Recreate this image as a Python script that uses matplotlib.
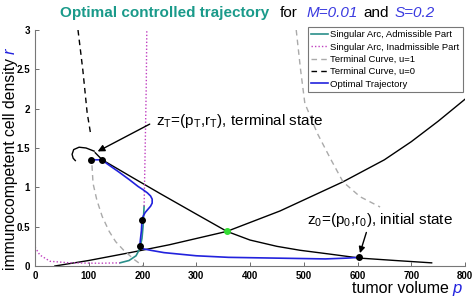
import matplotlib
matplotlib.use("Agg")
import matplotlib.pyplot as plt
import numpy as np

plt.rcParams['font.family'] = ['Liberation Sans', 'DejaVu Sans']

# ---- data ----
rise_p = [37, 100, 177, 250, 357, 456, 573, 650, 700, 750, 800]
rise_r = [0.0, 0.07, 0.17, 0.27, 0.44, 0.70, 1.07, 1.35, 1.58, 1.84, 2.12]

fall_p = [112, 125, 180, 233, 300, 357, 400, 450, 493, 550, 605, 670, 738]
fall_r = [1.44, 1.35, 1.13, 0.92, 0.66, 0.44, 0.33, 0.25, 0.20, 0.15, 0.10, 0.07, 0.04]

opt_p = [603, 580, 540, 450, 360, 300, 240, 215, 200, 195, 196, 198, 199, 201, 205, 210, 215, 218, 218, 215, 209, 201, 192, 175, 155, 134, 125, 104]
opt_r = [0.11, 0.10, 0.09, 0.10, 0.11, 0.13, 0.17, 0.20, 0.22, 0.25, 0.33, 0.45, 0.58, 0.63, 0.68, 0.72, 0.76, 0.80, 0.85, 0.89, 0.93, 0.97, 1.01, 1.10, 1.20, 1.30, 1.35, 1.35]

adm_p = [158, 175, 188, 195, 199, 201, 203]
adm_r = [0.04, 0.07, 0.13, 0.22, 0.35, 0.50, 0.76]

inadm_lo_p = [0, 9, 28, 65, 120, 158]
inadm_lo_r = [0.24, 0.14, 0.06, 0.04, 0.035, 0.04]
inadm_hi_p = [203, 205, 207, 208]
inadm_hi_r = [0.76, 1.5, 2.3, 3.0]

u1_a_p = [486, 494, 502, 525, 550, 573, 605, 642]
u1_a_r = [3.0, 2.5, 2.07, 1.69, 1.36, 1.07, 0.88, 0.75]
u1_b_p = [106, 108, 115, 125, 138, 150, 165, 185, 201]
u1_b_r = [1.28, 1.05, 0.84, 0.63, 0.44, 0.31, 0.20, 0.08, 0.0]

u0_p = [80, 89, 97, 103]
u0_r = [3.0, 2.49, 1.95, 1.70]

hook_p = [110, 95, 82, 72, 69, 71, 75]
hook_r = [1.46, 1.50, 1.51, 1.48, 1.42, 1.37, 1.34]

dots_p = [603, 195, 199, 125, 104]
dots_r = [0.11, 0.25, 0.58, 1.35, 1.35]
eq_p, eq_r = 357, 0.44
term_p, term_r = 112, 1.44
init_p, init_r = 603, 0.13

xticks = [0, 100, 200, 300, 400, 500, 600, 700, 800]
yticks = [0, 0.5, 1, 1.5, 2, 2.5, 3]
ytick_labels = ['0', '0.5', '1', '1.5', '2', '2.5', '3']

TEAL = '#2a8f8a'
MAG = '#c040c0'
GRAY = '#aaaaaa'
BLUE = '#2222dd'
TBLUE = '#3a3ae0'

W, H = 474, 297
fig = plt.figure(figsize=(W / 100, H / 100), dpi=100)
ax = fig.add_axes([35 / W, 31 / H, 430 / W, 236 / H])

ax.plot(rise_p, rise_r, color='black', lw=1.0)
ax.plot(fall_p, fall_r, color='black', lw=1.0)
ax.plot(hook_p, hook_r, color='black', lw=1.0)

ax.plot(adm_p, adm_r, color=TEAL, lw=1.2, label='Singular Arc, Admissible Part')
ax.plot(inadm_lo_p + [np.nan] + inadm_hi_p, inadm_lo_r + [np.nan] + inadm_hi_r,
        color=MAG, lw=1.0, ls=(0, (1, 1.5)), label='Singular Arc, Inadmissible Part')
ax.plot(u1_a_p + [np.nan] + u1_b_p, u1_a_r + [np.nan] + u1_b_r,
        color=GRAY, lw=1.0, ls=(0, (4, 3)), label='Terminal Curve, u=1')
ax.plot(u0_p, u0_r, color='black', lw=1.0, ls=(0, (4, 3)), label='Terminal Curve, u=0')
ax.plot(opt_p, opt_r, color=BLUE, lw=1.2, label='Optimal Trajectory')

ax.plot(dots_p, dots_r, 'o', color='black', ms=4, zorder=5)
ax.plot([eq_p], [eq_r], 'o', color='#33dd33', ms=4, zorder=5)

# annotations
ax.annotate('', xy=(term_p, term_r), xytext=(218, 1.82),
            arrowprops=dict(arrowstyle='-|>', color='black', lw=1.0, mutation_scale=10))
ax.text(226, 1.84, r'z$_\mathregular{T}$=(p$_\mathregular{T}$,r$_\mathregular{T}$), terminal state',
        fontsize=11, va='center', ha='left')
ax.annotate('', xy=(init_p, init_r), xytext=(618, 0.46),
            arrowprops=dict(arrowstyle='-|>', color='black', lw=1.0, mutation_scale=9))
ax.text(506, 0.58, r'z$_\mathregular{0}$=(p$_\mathregular{0}$,r$_\mathregular{0}$), initial state',
        fontsize=11, va='center', ha='left')

ax.set_xlim(0, 800)
ax.set_ylim(0, 3)
ax.set_xticks(xticks)
ax.set_xticklabels([str(t) for t in xticks])
ax.set_yticks(yticks)
ax.set_yticklabels(ytick_labels)
ax.tick_params(direction='in', length=3, labelsize=7, width=0.6, color='#555555')
for lab in ax.get_xticklabels() + ax.get_yticklabels():
    lab.set_fontweight('bold')
ax.spines['top'].set_visible(False)
ax.spines['right'].set_visible(False)
for s in ['left', 'bottom']:
    ax.spines[s].set_color('#777777')
    ax.spines[s].set_linewidth(0.8)

leg = ax.legend(loc='upper right', bbox_to_anchor=(463 / W, 1 - 27 / H),
                bbox_transform=fig.transFigure, fontsize=6.8, frameon=True,
                fancybox=False, edgecolor='#555555', handlelength=1.8,
                handletextpad=0.25, borderpad=0.35, labelspacing=0.35, borderaxespad=0)
leg.get_frame().set_linewidth(0.8)

renderer = fig.canvas.get_renderer()


def seq_h(pieces, x, y_base):
    """Place text pieces left to right; x, y_base in pixels from top-left."""
    for s, kw, gap in pieces:
        t = fig.text(x / W, 1 - y_base / H, s, ha='left', va='baseline', **kw)
        bb = t.get_window_extent(renderer)
        x += bb.width + gap


def seq_v(pieces, x_base, y):
    """Place rotated text pieces bottom to top."""
    for s, kw, gap in pieces:
        t = fig.text(x_base / W, 1 - y / H, s, ha='left', va='baseline',
                     rotation=90, rotation_mode='anchor', **kw)
        bb = t.get_window_extent(renderer)
        y -= bb.height + gap


# title
ty = 17
fig.text(60 / W, 1 - ty / H, 'Optimal controlled trajectory', fontsize=11,
         fontweight='bold', color='#1a9a8a', ha='left', va='baseline')
fig.text(280 / W, 1 - ty / H, 'for', fontsize=11, ha='left', va='baseline')
fig.text(307 / W, 1 - ty / H, 'M=0.01', fontsize=11, style='italic', color=TBLUE,
         ha='left', va='baseline')
fig.text(363 / W, 1 - ty / H, 'and', fontsize=11, ha='left', va='baseline')
fig.text(395 / W, 1 - ty / H, 'S=0.2', fontsize=11, style='italic', color=TBLUE,
         ha='left', va='baseline')

# x label
seq_h([('tumor volume', dict(fontsize=11.5), 4),
       ('p', dict(fontsize=12, style='italic', color=BLUE), 0)], 352, 293)

# y label
seq_v([('immunocompetent cell density', dict(fontsize=11.3), 4),
       ('r', dict(fontsize=12, style='italic', color=BLUE), 0)], 15, 270)

fig.savefig('out.png', dpi=100)
